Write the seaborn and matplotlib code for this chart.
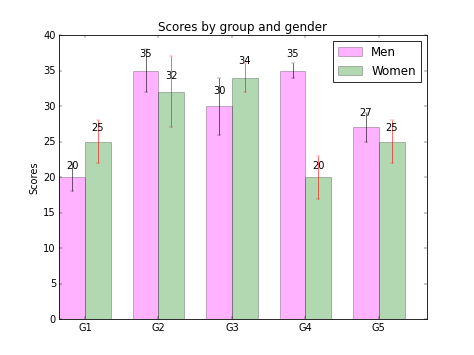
import numpy as np
import pandas as pd
import seaborn as sns
import matplotlib
matplotlib.use("Agg")
import matplotlib.pyplot as plt

groups = ['G1', 'G2', 'G3', 'G4', 'G5']
men_means = [20, 35, 30, 35, 27]
men_std = [2, 3, 4, 1, 2]
women_means = [25, 32, 34, 20, 25]
women_std = [3, 5, 2, 3, 3]

plt.style.use('classic')
plt.rcParams['figure.facecolor'] = 'white'
plt.rcParams['savefig.facecolor'] = 'white'

df = pd.DataFrame({
    'group': groups * 2,
    'score': men_means + women_means,
    'gender': ['Men'] * len(groups) + ['Women'] * len(groups),
})

fig, ax = plt.subplots(figsize=(8, 6), dpi=59.25)

sns.barplot(data=df, x='group', y='score', hue='gender', order=groups,
            hue_order=['Men', 'Women'], palette=['magenta', 'green'],
            saturation=1, errorbar=None, width=0.7, alpha=0.3,
            edgecolor='black', linewidth=1, legend=False, ax=ax)

stds = [men_std, women_std]
means = [men_means, women_means]
ecolors = ['black', 'red']
for cont, sd, mv, ec in zip(ax.containers, stds, means, ecolors):
    xs = [p.get_x() + p.get_width() / 2 for p in cont]
    ax.errorbar(xs, mv, yerr=sd, fmt='none', ecolor=ec, capsize=3, alpha=0.7)
    for x, h in zip(xs, mv):
        ax.text(x, 1.05 * h, '%d' % int(h), ha='center', va='bottom')

ax.legend(ax.containers, ['Men', 'Women'], loc='upper right')
ax.set_xlim(-0.35, 4.65)
ax.set_ylim(0, 40)
ax.set_xlabel('')
ax.set_ylabel('Scores')
ax.set_title('Scores by group and gender')

fig.savefig('out.png', dpi=59.25)
